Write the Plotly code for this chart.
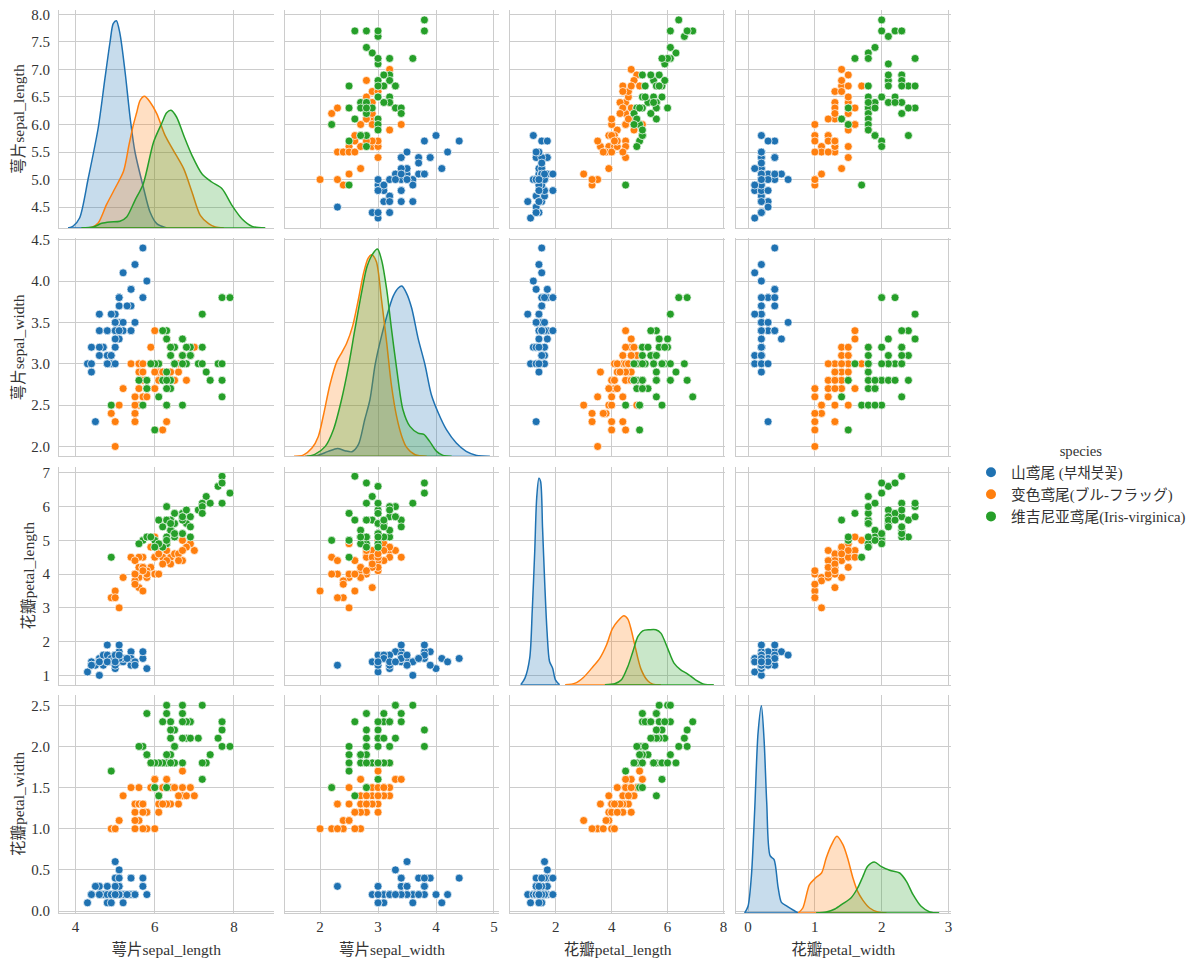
# Pairplot of the iris data, 4x4 grid, kde on the diagonal
import plotly.graph_objects as go

# measurements per species
setosa_sl = [5.1,4.9,4.7,4.6,5.0,5.4,4.6,5.0,4.4,4.9,5.4,4.8,4.8,4.3,5.8,5.7,5.4,5.1,5.7,5.1,5.4,5.1,4.6,5.1,4.8,5.0,5.0,5.2,5.2,4.7,4.8,5.4,5.2,5.5,4.9,5.0,5.5,4.9,4.4,5.1,5.0,4.5,4.4,5.0,5.1,4.8,5.1,4.6,5.3,5.0]
setosa_sw = [3.5,3.0,3.2,3.1,3.6,3.9,3.4,3.4,2.9,3.1,3.7,3.4,3.0,3.0,4.0,4.4,3.9,3.5,3.8,3.8,3.4,3.7,3.6,3.3,3.4,3.0,3.4,3.5,3.4,3.2,3.1,3.4,4.1,4.2,3.1,3.2,3.5,3.6,3.0,3.4,3.5,2.3,3.2,3.5,3.8,3.0,3.8,3.2,3.7,3.3]
setosa_pl = [1.4,1.4,1.3,1.5,1.4,1.7,1.4,1.5,1.4,1.5,1.5,1.6,1.4,1.1,1.2,1.5,1.3,1.4,1.7,1.5,1.7,1.5,1.0,1.7,1.9,1.6,1.6,1.5,1.4,1.6,1.6,1.5,1.5,1.4,1.5,1.2,1.3,1.4,1.3,1.5,1.3,1.3,1.3,1.6,1.9,1.4,1.6,1.4,1.5,1.4]
setosa_pw = [0.2,0.2,0.2,0.2,0.2,0.4,0.3,0.2,0.2,0.1,0.2,0.2,0.1,0.1,0.2,0.4,0.4,0.3,0.3,0.3,0.2,0.4,0.2,0.5,0.2,0.2,0.4,0.2,0.2,0.2,0.2,0.4,0.1,0.2,0.2,0.2,0.2,0.1,0.2,0.2,0.3,0.3,0.2,0.6,0.4,0.3,0.2,0.2,0.2,0.2]

versicolor_sl = [7.0,6.4,6.9,5.5,6.5,5.7,6.3,4.9,6.6,5.2,5.0,5.9,6.0,6.1,5.6,6.7,5.6,5.8,6.2,5.6,5.9,6.1,6.3,6.1,6.4,6.6,6.8,6.7,6.0,5.7,5.5,5.5,5.8,6.0,5.4,6.0,6.7,6.3,5.6,5.5,5.5,6.1,5.8,5.0,5.6,5.7,5.7,6.2,5.1,5.7]
versicolor_sw = [3.2,3.2,3.1,2.3,2.8,2.8,3.3,2.4,2.9,2.7,2.0,3.0,2.2,2.9,2.9,3.1,3.0,2.7,2.2,2.5,3.2,2.8,2.5,2.8,2.9,3.0,2.8,3.0,2.9,2.6,2.4,2.4,2.7,2.7,3.0,3.4,3.1,2.3,3.0,2.5,2.6,3.0,2.6,2.3,2.7,3.0,2.9,2.9,2.5,2.8]
versicolor_pl = [4.7,4.5,4.9,4.0,4.6,4.5,4.7,3.3,4.6,3.9,3.5,4.2,4.0,4.7,3.6,4.4,4.5,4.1,4.5,3.9,4.8,4.0,4.9,4.7,4.3,4.4,4.8,5.0,4.5,3.5,3.8,3.7,3.9,5.1,4.5,4.5,4.7,4.4,4.1,4.0,4.4,4.6,4.0,3.3,4.2,4.2,4.2,4.3,3.0,4.1]
versicolor_pw = [1.4,1.5,1.5,1.3,1.5,1.3,1.6,1.0,1.3,1.4,1.0,1.5,1.0,1.4,1.3,1.4,1.5,1.0,1.5,1.1,1.8,1.3,1.5,1.2,1.3,1.4,1.4,1.7,1.5,1.0,1.1,1.0,1.2,1.6,1.5,1.6,1.5,1.3,1.3,1.3,1.2,1.4,1.2,1.0,1.3,1.2,1.3,1.3,1.1,1.3]

virginica_sl = [6.3,5.8,7.1,6.3,6.5,7.6,4.9,7.3,6.7,7.2,6.5,6.4,6.8,5.7,5.8,6.4,6.5,7.7,7.7,6.0,6.9,5.6,7.7,6.3,6.7,7.2,6.2,6.1,6.4,7.2,7.4,7.9,6.4,6.3,6.1,7.7,6.3,6.4,6.0,6.9,6.7,6.9,5.8,6.8,6.7,6.7,6.3,6.5,6.2,5.9]
virginica_sw = [3.3,2.7,3.0,2.9,3.0,3.0,2.5,2.9,2.5,3.6,3.2,2.7,3.0,2.5,2.8,3.2,3.0,3.8,2.6,2.2,3.2,2.8,2.8,2.7,3.3,3.2,2.8,3.0,2.8,3.0,2.8,3.8,2.8,2.8,2.6,3.0,3.4,3.1,3.0,3.1,3.1,3.1,2.7,3.2,3.3,3.0,2.5,3.0,3.4,3.0]
virginica_pl = [6.0,5.1,5.9,5.6,5.8,6.6,4.5,6.3,5.8,6.1,5.1,5.3,5.5,5.0,5.1,5.3,5.5,6.7,6.9,5.0,5.7,4.9,6.7,4.9,5.7,6.0,4.8,4.9,5.6,5.8,6.1,6.4,5.6,5.1,5.6,6.1,5.6,5.5,4.8,5.4,5.6,5.1,5.1,5.9,5.7,5.2,5.0,5.2,5.4,5.1]
virginica_pw = [2.5,1.9,2.1,1.8,2.2,2.1,1.7,1.8,1.8,2.5,2.0,1.9,2.1,2.0,2.4,2.3,1.8,2.2,2.3,1.5,2.3,2.0,2.0,1.8,2.1,1.8,1.8,1.8,2.1,1.6,1.9,2.0,2.2,1.5,1.4,2.3,2.4,1.8,1.8,2.1,2.4,2.3,1.9,2.3,2.5,2.3,1.9,2.0,2.3,1.8]

# density curves
kde_sl_setosa_x = [3.81,3.94,4.10,4.32,4.57,4.74,4.87,4.95,5.03,5.12,5.25,5.38,5.50,5.71,5.88,6.05,6.30]
kde_sl_setosa_y = [0,.006,.030,.150,.300,.448,.558,.613,.622,.583,.468,.328,.228,.123,.048,.013,0]
kde_sl_versicolor_x = [4.19,4.41,4.57,4.78,5.00,5.21,5.35,5.46,5.54,5.63,5.74,5.88,6.05,6.26,6.47,6.73,6.94,7.15,7.36,7.53,7.74]
kde_sl_versicolor_y = [0,.002,.015,.070,.120,.170,.250,.310,.345,.383,.395,.378,.343,.278,.233,.178,.108,.038,.013,.003,0]
kde_sl_virginica_x = [4.15,4.45,4.66,4.87,5.12,5.29,5.50,5.71,5.97,6.19,6.30,6.41,6.55,6.73,6.94,7.19,7.44,7.70,7.95,8.20,8.46,8.79]
kde_sl_virginica_y = [0,.003,.014,.018,.020,.033,.083,.133,.258,.318,.346,.353,.333,.278,.218,.163,.138,.118,.068,.028,.005,0]

kde_sw_setosa_x = [1.74,1.94,2.14,2.30,2.43,2.55,2.66,2.77,2.86,2.95,3.03,3.15,3.26,3.35,3.41,3.49,3.58,3.69,3.81,3.92,4.04,4.18,4.35,4.52,4.70,4.93]
kde_sw_setosa_y = [0,.002,.015,.024,.017,.014,.035,.110,.170,.275,.340,.420,.480,.505,.511,.490,.445,.355,.275,.185,.130,.080,.040,.015,.003,0]
kde_sw_versicolor_x = [1.55,1.71,1.86,1.97,2.06,2.17,2.29,2.37,2.46,2.56,2.66,2.75,2.83,2.89,2.97,3.06,3.15,3.23,3.32,3.41,3.49,3.64,3.84]
kde_sw_versicolor_y = [0,.004,.025,.060,.125,.215,.285,.310,.340,.390,.470,.550,.595,.605,.585,.470,.340,.215,.120,.060,.028,.005,0]
kde_sw_virginica_x = [1.77,1.91,2.09,2.23,2.37,2.49,2.60,2.72,2.81,2.91,2.99,3.06,3.15,3.23,3.32,3.43,3.55,3.69,3.79,3.89,4.01,4.12,4.27]
kde_sw_virginica_y = [0,.006,.030,.080,.170,.270,.380,.495,.570,.608,.622,.590,.500,.385,.265,.140,.090,.070,.066,.045,.015,.003,0]

kde_pl_setosa_x = [0.75,0.90,1.07,1.16,1.25,1.32,1.40,1.46,1.53,1.61,1.69,1.78,1.89,1.99,2.14]
kde_pl_setosa_y = [0,.020,.080,.220,.400,.560,.620,.610,.470,.300,.160,.070,.050,.015,0]
kde_pl_versicolor_x = [2.34,2.70,2.99,3.29,3.58,3.82,4.02,4.23,4.44,4.58,4.70,4.82,5.05,5.29,5.47,5.76]
kde_pl_versicolor_y = [0,.005,.022,.050,.080,.120,.167,.192,.207,.197,.165,.122,.047,.012,.002,0]
kde_pl_virginica_x = [3.76,4.11,4.35,4.58,4.76,4.94,5.11,5.35,5.58,5.76,6.00,6.23,6.47,6.71,7.00,7.30,7.65]
kde_pl_virginica_y = [0,.003,.015,.055,.100,.145,.162,.165,.165,.155,.110,.065,.045,.033,.015,.002,0]

kde_pw_setosa_x = [-0.05,0,0.05,0.10,0.15,0.20,0.24,0.28,0.33,0.39,0.45,0.50,0.57,0.65,0.75]
kde_pw_setosa_y = [0,.020,.110,.310,.540,.622,.520,.330,.172,.160,.077,.032,.022,.012,0]
kde_pw_versicolor_x = [0.75,0.82,0.92,1.01,1.10,1.17,1.25,1.33,1.42,1.49,1.57,1.64,1.72,1.82,1.94,2.07]
kde_pw_versicolor_y = [0,.015,.085,.105,.120,.165,.205,.230,.205,.165,.105,.065,.038,.015,.003,0]
kde_pw_virginica_x = [1.02,1.17,1.30,1.42,1.54,1.64,1.72,1.79,1.89,1.99,2.12,2.27,2.37,2.47,2.59,2.72,2.86]
kde_pw_virginica_y = [0,.003,.012,.028,.045,.075,.110,.140,.153,.140,.128,.120,.095,.055,.020,.003,0]

species = ["山鸢尾 (부채붓꽃)", "变色鸢尾(ブル-フラッグ)", "维吉尼亚鸢尾(Iris-virginica)"]
colors = ["#1f72b2", "#ff7f0e", "#269f29"]
fills = ["rgba(31,114,178,0.25)", "rgba(255,127,14,0.25)", "rgba(38,159,41,0.25)"]
labels = ["萼片sepal_length", "萼片sepal_width", "花瓣petal_length", "花瓣petal_width"]

values = [
    [setosa_sl, versicolor_sl, virginica_sl],
    [setosa_sw, versicolor_sw, virginica_sw],
    [setosa_pl, versicolor_pl, virginica_pl],
    [setosa_pw, versicolor_pw, virginica_pw],
]
kdes = [
    [(kde_sl_setosa_x, kde_sl_setosa_y), (kde_sl_versicolor_x, kde_sl_versicolor_y), (kde_sl_virginica_x, kde_sl_virginica_y)],
    [(kde_sw_setosa_x, kde_sw_setosa_y), (kde_sw_versicolor_x, kde_sw_versicolor_y), (kde_sw_virginica_x, kde_sw_virginica_y)],
    [(kde_pl_setosa_x, kde_pl_setosa_y), (kde_pl_versicolor_x, kde_pl_versicolor_y), (kde_pl_virginica_x, kde_pl_virginica_y)],
    [(kde_pw_setosa_x, kde_pw_setosa_y), (kde_pw_versicolor_x, kde_pw_versicolor_y), (kde_pw_virginica_x, kde_pw_virginica_y)],
]

x_ranges = [[3.58, 9.0], [1.39, 5.09], [0.38, 8.05], [-0.18, 3.03]]
y_ranges = [[4.12, 8.08], [1.88, 4.516], [0.72, 7.18], [-0.024, 2.625]]
x_ticks = [[4, 6, 8], [2, 3, 4, 5], [2, 4, 6, 8], [0, 1, 2, 3]]
y_ticks = [[4.5, 5, 5.5, 6, 6.5, 7, 7.5, 8], [2, 2.5, 3, 3.5, 4, 4.5], [1, 2, 3, 4, 5, 6, 7], [0, 0.5, 1, 1.5, 2, 2.5]]
y_formats = [".1f", ".1f", "d", ".1f"]
y_standoff = [2, 2, 4, 2]

# the page body keeps an 8px margin all round, so the figure is 16px smaller than the window
WIDTH, HEIGHT = 1184, 950
FONT = "Liberation Serif, Noto Sans CJK SC, Noto Sans CJK JP, Noto Sans CJK KR, serif"
TEXT = "#333333"
GRID = "#cccccc"
lefts = [51, 276.7, 502.4, 728]
tops = [2, 230.4, 458.8, 687]
PANEL_W, PANEL_H = 214.5, 218

fig = go.Figure()
layout = {}
next_overlay = 17

for r in range(4):
    for c in range(4):
        n = r * 4 + c + 1
        xname, yname = f"x{n}", f"y{n}"
        layout[f"xaxis{n}"] = dict(
            domain=[lefts[c] / WIDTH, (lefts[c] + PANEL_W) / WIDTH],
            range=x_ranges[c], anchor=yname, tickmode="array", tickvals=x_ticks[c],
            showticklabels=r == 3, ticks="", showgrid=True, gridcolor=GRID, gridwidth=1,
            showline=True, linecolor=GRID, linewidth=1, zeroline=False,
            tickfont=dict(family=FONT, size=15, color=TEXT),
            title=dict(text=labels[c] if r == 3 else "", font=dict(family=FONT, size=15.5, color=TEXT), standoff=10),
        )
        layout[f"yaxis{n}"] = dict(
            domain=[1 - (tops[r] + PANEL_H) / HEIGHT, 1 - tops[r] / HEIGHT],
            range=y_ranges[r], anchor=xname, tickmode="array", tickvals=y_ticks[r], tickformat=y_formats[r],
            showticklabels=c == 0, ticks="", showgrid=True, gridcolor=GRID, gridwidth=1,
            showline=True, linecolor=GRID, linewidth=1, zeroline=False,
            tickfont=dict(family=FONT, size=15, color=TEXT),
            ticklabeloverflow="allow", ticklabelstandoff=5,
            title=dict(text=labels[r] if c == 0 else "", font=dict(family=FONT, size=15.5, color=TEXT), standoff=y_standoff[r]),
        )
        if r == c:
            # base subplot needs a trace of its own or plotly drops it for the overlay
            fig.add_trace(go.Scatter(
                x=[x_ticks[c][0]], y=[y_ticks[r][0]], xaxis=xname, yaxis=yname, mode="markers",
                marker=dict(opacity=0), showlegend=False, hoverinfo="skip",
            ))
            # density gets its own hidden y axis on top of the panel
            over = next_overlay
            next_overlay += 1
            layout[f"yaxis{over}"] = dict(
                domain=layout[f"yaxis{n}"]["domain"], range=[0, 0.654], overlaying=yname,
                anchor=xname, visible=False,
            )
            for s in range(3):
                kx, ky = kdes[r][s]
                fig.add_trace(go.Scatter(
                    x=kx, y=ky, xaxis=xname, yaxis=f"y{over}", mode="lines", fill="tozeroy",
                    fillcolor=fills[s], line=dict(color=colors[s], width=1.5, shape="spline", smoothing=0.8),
                    showlegend=False, hoverinfo="skip",
                ))
                # base of the filled area
                fig.add_trace(go.Scatter(
                    x=[kx[0], kx[-1]], y=[0, 0], xaxis=xname, yaxis=f"y{over}", mode="lines",
                    line=dict(color=colors[s], width=1.5), cliponaxis=False,
                    showlegend=False, hoverinfo="skip",
                ))
        else:
            for s in range(3):
                fig.add_trace(go.Scatter(
                    x=values[c][s], y=values[r][s], xaxis=xname, yaxis=yname, mode="markers",
                    marker=dict(color=colors[s], size=8, line=dict(color="white", width=0.7)),
                    name=species[s], legendgroup=species[s], showlegend=(r == 0 and c == 1),
                ))

fig.update_layout(
    width=WIDTH, height=HEIGHT, margin=dict(l=0, r=0, t=0, b=0, autoexpand=False),
    paper_bgcolor="white", plot_bgcolor="white",
    font=dict(family=FONT, size=15, color=TEXT),
    legend=dict(
        x=963 / WIDTH, y=1 - 429 / HEIGHT, xanchor="left", yanchor="top",
        bgcolor="rgba(0,0,0,0)", itemsizing="constant", itemwidth=30, tracegroupgap=0,
        title=dict(text="species", side="top center", font=dict(family=FONT, size=14.7, color=TEXT)),
        font=dict(family=FONT, size=14.7, color=TEXT),
    ),
    **layout,
)

fig.write_html("out.html")
